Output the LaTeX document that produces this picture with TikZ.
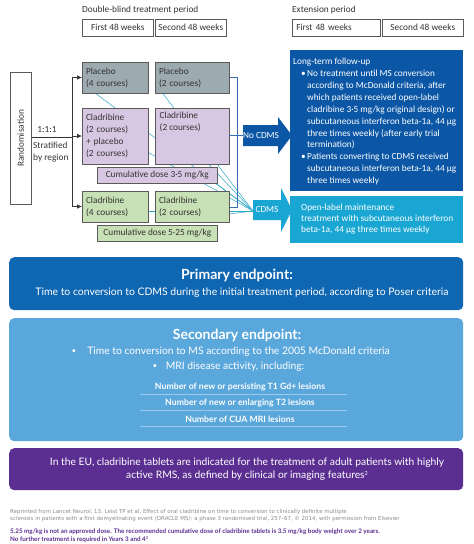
\documentclass[tikz,border=0pt]{standalone}
\usepackage{fontspec}
\setmainfont{Carlito}
\newfontfamily\lato{Lato}
\newfontfamily\dejavu{DejaVu Sans}
\usetikzlibrary{arrows.meta}
\definecolor{gbox}{HTML}{9DAAB0}
\definecolor{lav}{HTML}{D8C7E3}
\definecolor{grn}{HTML}{C7E0B5}
\definecolor{dkblue}{HTML}{0B57A6}
\definecolor{cyanb}{HTML}{1AA6D2}
\definecolor{tealc}{HTML}{2BA7C8}
\definecolor{primb}{HTML}{0F66B1}
\definecolor{secb}{HTML}{5AA7DC}
\definecolor{sepc}{HTML}{9ACBEF}
\definecolor{purp}{HTML}{5B2E91}
\definecolor{bline}{HTML}{3A6DB5}
\definecolor{txtc}{HTML}{333333}
\definecolor{boxline}{HTML}{5A5A5A}
\definecolor{greyt}{HTML}{8A8A8A}
\tikzset{
  tbox/.style={draw=boxline, line width=0.6pt, anchor=north west, inner xsep=4pt, inner ysep=0pt, align=left, outer sep=0pt},
  wk/.style={draw=boxline, line width=0.6pt, minimum height=17pt, inner sep=0pt, anchor=north west},
  ltxt/.style={anchor=north west, inner sep=0pt, align=left},
  tline/.style={draw=tealc, line width=0.5pt},
  bkt/.style={draw=bline, line width=0.7pt},
  arr/.style={draw=txtc, line width=0.6pt, -{Latex[length=5pt,width=4.5pt]}},
  panel/.style={rounded corners=5pt, anchor=north west, inner sep=0pt, minimum width=454pt},
  bul/.style={anchor=center, inner sep=0pt, text=white}
}
\newcommand{\bl}{\hspace*{8pt}\makebox[6pt][l]{\textbullet}}
\newcommand{\ind}{\hspace*{14pt}}
\newcommand{\supr}[2]{\raisebox{#1}{\fontsize{#2}{#2}\selectfont 2}}
\begin{document}
\begin{tikzpicture}[x=1pt,y=-1pt, font=\fontsize{9.3}{12}\selectfont, text=txtc]
\useasboundingbox (0,0) rectangle (474,544);
% headers
\node[anchor=west, inner sep=0pt] (dbl) at (82,10) {Double-blind treatment period};
\node[wk, minimum width=71pt] (w1) at (82,19) {First 48 weeks};
\node[wk, minimum width=71pt] (w2) at (155,19) {Second 48 weeks};
\node[anchor=west, inner sep=0pt] (ext) at (292,10) {Extension period};
\node[wk, minimum width=88pt, text width=80pt, inner xsep=4pt, align=left] (w3) at (292,19) {First 48 weeks};
\node[wk, minimum width=81pt] (w4) at (382,19) {Second 48 weeks};
% convergence point at CDMS arrow
\coordinate (cin) at (253,211);
% teal lines (behind boxes)
\draw[tline] (83,84) -- (cin);
\draw[tline] (155.5,84) -- (cin);
\draw[tline] (83,116) -- (cin);
\draw[tline] (157,110) -- (cin);
\draw[tline] (200,172) -- (cin);
\draw[tline] (100,211) -- (cin);
\draw[tline] (190,219) -- (cin);
% bracket lines
\coordinate (brt) at (237,77);
\coordinate (brb) at (237,207);
\draw[bkt] (229,77) -- (brt) -- (brb) -- (229,207);
% treatment boxes
\node[tbox, fill=gbox, minimum width=66pt, minimum height=31pt, text width=58pt] (p4) at (82,62) {Placebo\\(4 courses)};
\node[tbox, fill=gbox, minimum width=74pt, minimum height=31pt, text width=66pt] (p2) at (155,62) {Placebo\\(2 courses)};
\node[tbox, fill=lav, minimum width=66pt, minimum height=56pt, text width=58pt] (c1) at (82,108) {Cladribine\\(2 courses)\\+ placebo\\(2 courses)};
\node[tbox, fill=lav, minimum width=74pt, minimum height=56pt, text width=66pt] (c2) at (155,108) {};
\node[ltxt] (c2t) at (159.5,111.5) {Cladribine\\(2 courses)};
\node[draw=boxline, line width=0.6pt, fill=lav, minimum width=120pt, minimum height=16pt, inner sep=0pt, anchor=north west] (cd1) at (97,167) {Cumulative dose 3·5 mg/kg};
\node[tbox, fill=grn, minimum width=66pt, minimum height=31pt, text width=58pt] (g1) at (82,191) {Cladribine\\(4 courses)};
\node[tbox, fill=grn, minimum width=74pt, minimum height=31pt, text width=66pt] (g2) at (155,191) {Cladribine\\(2 courses)};
\node[draw=boxline, line width=0.6pt, fill=grn, minimum width=120pt, minimum height=16pt, inner sep=0pt, anchor=north west] (cd2) at (97,225) {Cumulative dose 5·25 mg/kg};
% randomisation
\node[draw=boxline, line width=0.6pt, fill=white, minimum width=21pt, minimum height=132pt, inner sep=0pt, anchor=north west] (rand) at (10,72) {};
\node[rotate=90, inner sep=0pt] (randt) at (rand.center) {Randomisation};
\coordinate (split) at (72,137);
\draw[draw=txtc, line width=0.6pt] (split -| rand.east) -- (split);
\draw[draw=txtc, line width=0.6pt] (split |- p4.west) -- (split |- g1.west);
\draw[arr] (split |- p4.west) -- (p4.west);
\draw[arr] (split |- c1.west) -- (c1.west);
\draw[arr] (split |- g1.west) -- (g1.west);
\node[inner sep=0pt] (ratio) at (47,130) {1:1:1};
\node[ltxt] (strat) at (33,141.5) {Stratified\\by region};
% arrows
\fill[dkblue] (243,125) -- (278,125) -- (278,117) -- (292,135.5) -- (278,154) -- (278,146) -- (243,146) -- cycle;
\node[text=white, inner sep=0pt] (nocdms) at (261,135.5) {No CDMS};
\draw[bkt] (c2.east |- nocdms) -- (243,135.5);
\fill[cyanb] (253,200) -- (281,200) -- (281,188) -- (292,210) -- (281,232) -- (281,220) -- (253,220) -- cycle;
\node[text=white, inner sep=0pt] (cdms) at (267,210) {CDMS};
% extension boxes
\node[fill=dkblue, minimum width=173pt, minimum height=141pt, anchor=north west, inner sep=0pt] (ltf) at (290,50) {};
\node[ltxt, text=white, font=\fontsize{9.3}{11.9}\selectfont] (ltft) at (293,58) {Long-term follow-up\\
\bl No treatment until MS conversion\\
\ind according to McDonald criteria, after\\
\ind which patients received open-label\\
\ind cladribine 3·5 mg/kg original design) or\\
\ind subcutaneous interferon beta-1a, 44 µg\\
\ind three times weekly (after early trial\\
\ind termination)\\
\bl Patients converting to CDMS received\\
\ind subcutaneous interferon beta-1a, 44 µg\\
\ind three times weekly};
\node[fill=cyanb, minimum width=173pt, minimum height=47pt, anchor=north west, inner sep=0pt] (olm) at (290,196) {};
\node[ltxt, text=white, font=\fontsize{9.3}{11}\selectfont] (olmt) at (301,204) {Open-label maintenance\\treatment with subcutaneous interferon\\beta-1a, 44 µg three times weekly};
% primary endpoint
\node[panel, fill=primb, minimum height=53pt] (prim) at (9,257) {};
\node[text=white, inner sep=0pt, font=\lato\bfseries\fontsize{14}{16}\selectfont] (primh) at (237,275) {Primary endpoint:};
\node[text=white, inner sep=0pt, font=\lato\fontsize{10.4}{12}\selectfont] (primt) at (242,293) {Time to conversion to CDMS during the initial treatment period, according to Poser criteria};
% secondary endpoint
\node[panel, fill=secb, minimum height=123pt] (sec) at (9,318) {};
\node[text=white, inner sep=0pt, font=\lato\bfseries\fontsize{14}{16}\selectfont] (sech) at (237,335) {Secondary endpoint:};
\node[text=white, inner sep=0pt, font=\lato\fontsize{10.3}{12}\selectfont] (sec1) at (238.5,352) {Time to conversion to MS according to the 2005 McDonald criteria};
\node[bul, font=\lato\fontsize{8}{10}\selectfont] (b1) at (74,351.5) {•};
\node[text=white, inner sep=0pt, font=\lato\fontsize{10.3}{12}\selectfont] (sec2) at (235,367) {MRI disease activity, including:};
\node[bul, font=\lato\fontsize{8}{10}\selectfont] (b2) at (155,366.5) {•};
\node[text=white, inner sep=0pt, font=\lato\bfseries\fontsize{8.7}{10}\selectfont] (n1) at (240,387) {Number of new or persisting T1 Gd+ lesions};
\node[text=white, inner sep=0pt, font=\lato\bfseries\fontsize{8.7}{10}\selectfont] (n2) at (240,403) {Number of new or enlarging T2 lesions};
\node[text=white, inner sep=0pt, font=\lato\bfseries\fontsize{8.7}{10}\selectfont] (n3) at (240,419) {Number of CUA MRI lesions};
\draw[sepc, line width=0.5pt] (140,394.5) -- (347,394.5);
\draw[sepc, line width=0.5pt] (140,410.5) -- (347,410.5);
\draw[sepc, line width=0.5pt] (140,426.5) -- (347,426.5);
% EU panel
\node[panel, fill=purp, minimum height=42pt] (eu) at (9,448) {};
\node[text=white, inner sep=0pt, align=center, font=\lato\fontsize{10.3}{13}\selectfont] (eut) at (247,469.5) {In the EU, cladribine tablets are indicated for the treatment of adult patients with highly\\active RMS, as defined by clinical or imaging features\supr{3.5pt}{5.5}};
% footnotes
\node[ltxt, text=greyt, font=\dejavu\fontsize{5.45}{7}\selectfont] (rep) at (10,509) {Reprinted from Lancet Neurol, 13, Leist TP et al, Effect of oral cladribine on time to conversion to clinically definite multiple\\sclerosis in patients with a first demyelinating event (ORACLE MS): a phase 3 randomised trial, 257–67, © 2014, with permission from Elsevier};
\node[ltxt, text=purp, font=\lato\bfseries\fontsize{6.3}{8.5}\selectfont] (fn) at (10,528.5) {5.25 mg/kg is not an approved dose. The recommended cumulative dose of cladribine tablets is 3.5 mg/kg body weight over 2 years.\\No further treatment is required in Years 3 and 4\supr{2.5pt}{3.8}};
\end{tikzpicture}
\end{document}
